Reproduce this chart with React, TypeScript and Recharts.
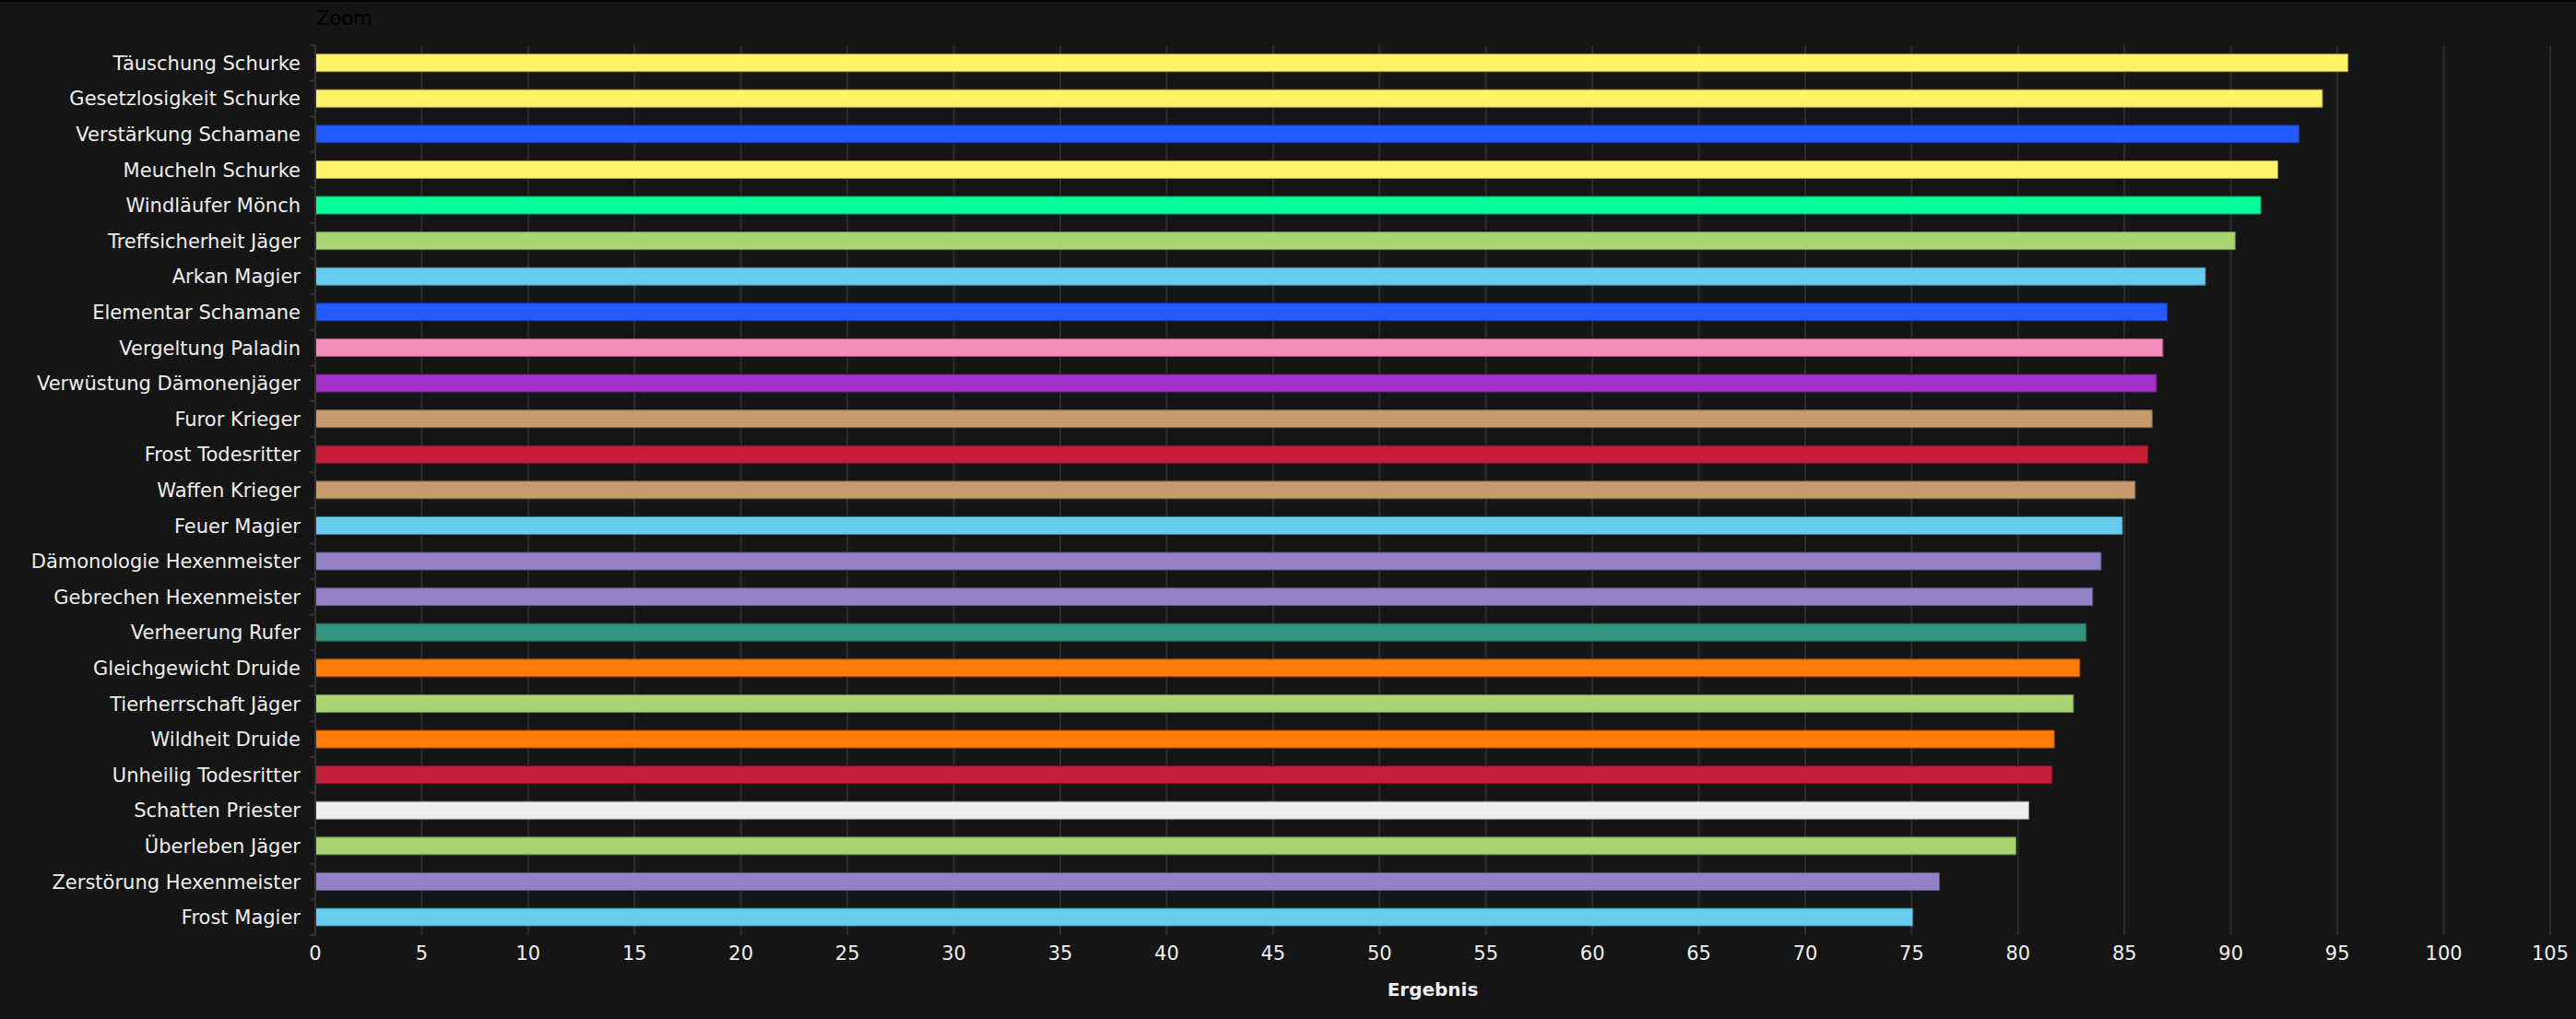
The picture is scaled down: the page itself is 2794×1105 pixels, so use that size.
import React from 'react';
import { BarChart, Bar, XAxis, YAxis, CartesianGrid, Cell } from 'recharts';

const specs = [
  'Täuschung Schurke',
  'Gesetzlosigkeit Schurke',
  'Verstärkung Schamane',
  'Meucheln Schurke',
  'Windläufer Mönch',
  'Treffsicherheit Jäger',
  'Arkan Magier',
  'Elementar Schamane',
  'Vergeltung Paladin',
  'Verwüstung Dämonenjäger',
  'Furor Krieger',
  'Frost Todesritter',
  'Waffen Krieger',
  'Feuer Magier',
  'Dämonologie Hexenmeister',
  'Gebrechen Hexenmeister',
  'Verheerung Rufer',
  'Gleichgewicht Druide',
  'Tierherrschaft Jäger',
  'Wildheit Druide',
  'Unheilig Todesritter',
  'Schatten Priester',
  'Überleben Jäger',
  'Zerstörung Hexenmeister',
  'Frost Magier',
];

const scores = [
  95.5, 94.3, 93.2, 92.2, 91.4, 90.2, 88.8, 87.0, 86.8, 86.5, 86.3, 86.1, 85.5,
  84.9, 83.9, 83.5, 83.2, 82.9, 82.6, 81.7, 81.6, 80.5, 79.9, 76.3, 75.05,
];

const xTicks = [0, 5, 10, 15, 20, 25, 30, 35, 40, 45, 50, 55, 60, 65, 70, 75, 80, 85, 90, 95, 100, 105];

// class colours
const classColors: Record<string, string> = {
  Schurke: '#FFF468',
  Schamane: '#2459FF',
  'Mönch': '#00FF98',
  'Jäger': '#AAD372',
  Magier: '#68CCEF',
  Paladin: '#F48CBA',
  'Dämonenjäger': '#A330C9',
  Krieger: '#C69B6D',
  Todesritter: '#C41E3A',
  Hexenmeister: '#9482C9',
  Rufer: '#33937F',
  Druide: '#FF7C0A',
  Priester: '#EEEEEE',
};

const data = specs.map((spec, i) => ({
  spec,
  score: scores[i],
  klasse: spec.split(' ').pop() as string,
}));

const W = 2794;
const H = 1105;
const MARGIN = { top: 49, right: 28, bottom: 21, left: 0 };
const Y_AXIS_W = 342;
const X_AXIS_H = 70;
const PLOT_H = H - MARGIN.top - MARGIN.bottom - X_AXIS_H;
const BAND = PLOT_H / specs.length;
const FONT = '"DejaVu Sans", sans-serif';

const darken = (hex: string, f = 0.65) => {
  const n = parseInt(hex.slice(1), 16);
  const r = Math.round(((n >> 16) & 255) * f);
  const g = Math.round(((n >> 8) & 255) * f);
  const b = Math.round((n & 255) * f);
  return `rgb(${r},${g},${b})`;
};

const SpecTick = (props: any) => {
  const { x, y, payload, index } = props;
  const ax = x + 16;
  return (
    <g>
      <line x1={ax - 6} x2={ax} y1={y - BAND / 2} y2={y - BAND / 2} stroke="#333" strokeWidth={2} />
      {index === specs.length - 1 && (
        <line x1={ax - 6} x2={ax} y1={y + BAND / 2} y2={y + BAND / 2} stroke="#333" strokeWidth={2} />
      )}
      <text x={x} y={y} dy="0.355em" textAnchor="end" fill="#eeeeee" fontSize={21} fontFamily={FONT}>
        {payload.value}
      </text>
    </g>
  );
};

export default function App() {
  return (
    <div style={{ position: 'absolute', left: 0, top: 0, width: W, height: H, background: '#151515', fontFamily: FONT }}>
      <div style={{ position: 'absolute', left: 0, top: 0, width: W, height: 2, background: '#000' }} />
      <div style={{ position: 'absolute', left: 343, top: 8, color: '#000', fontSize: 21, lineHeight: '24px' }}>Zoom</div>
      <BarChart
        width={W}
        height={H}
        data={data}
        layout="vertical"
        margin={MARGIN}
        barCategoryGap="25%"
        style={{ fontFamily: FONT }}
      >
        <CartesianGrid horizontal={false} stroke="#2c2c2c" strokeWidth={2} />
        <XAxis
          type="number"
          domain={[0, 105]}
          ticks={xTicks}
          interval={0}
          height={X_AXIS_H}
          axisLine={false}
          tickLine={false}
          tickSize={6}
          tickMargin={6}
          tick={{ fill: '#eeeeee', fontSize: 21, fontFamily: FONT }}
          label={{ value: 'Ergebnis', position: 'insideBottom', offset: 4, fill: '#eeeeee', fontSize: 20, fontWeight: 'bold', fontFamily: FONT }}
        />
        <YAxis
          type="category"
          dataKey="spec"
          width={Y_AXIS_W}
          interval={0}
          axisLine={{ stroke: '#333', strokeWidth: 2 }}
          tickLine={false}
          tickSize={6}
          tickMargin={10}
          tick={<SpecTick />}
        />
        <Bar dataKey="score" isAnimationActive={false} strokeWidth={1}>
          {data.map((d) => (
            <Cell key={d.spec} fill={classColors[d.klasse]} stroke={darken(classColors[d.klasse])} />
          ))}
        </Bar>
      </BarChart>
    </div>
  );
}
